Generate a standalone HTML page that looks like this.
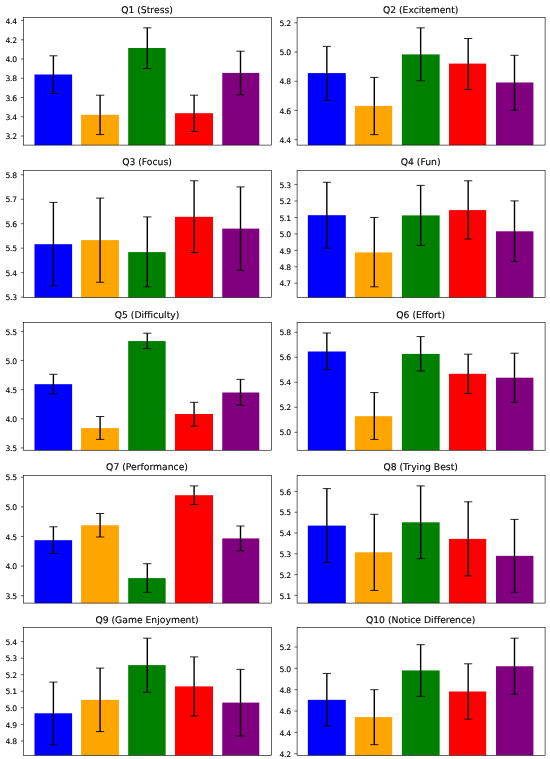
<!DOCTYPE html>
<html lang="en"><head><meta charset="utf-8"><title>Questionnaire results</title>
<style>
html,body{margin:0;padding:0;background:#fff;}
body{width:550px;height:759px;overflow:hidden;}
svg{display:block;}
svg text{font-family:"DejaVu Sans","Liberation Sans",sans-serif;fill:#000;text-rendering:geometricPrecision;}
svg text{font-variant-ligatures:none;font-kerning:normal;stroke:#000;stroke-width:0.12px;}
.tk{font-size:7.64px;text-anchor:end;letter-spacing:-0.3px;}
.tt{font-size:9.24px;text-anchor:middle;}
</style></head><body>
<svg width="550" height="759" viewBox="0 0 550 759">
<rect x="0" y="0" width="550" height="759" fill="#ffffff"/>
<g>
<rect x="34.5" y="74.5" width="37.6" height="70.6" fill="#0000ff"/>
<rect x="81.1" y="114.8" width="37.8" height="30.3" fill="#ffa500"/>
<rect x="128.2" y="48" width="37.44" height="97.1" fill="#008000"/>
<rect x="175.02" y="113.2" width="37.98" height="31.9" fill="#ff0000"/>
<rect x="222.26" y="72.9" width="37.04" height="72.2" fill="#800080"/>
<path d="M53.4 55.8V93.5" stroke="#000" stroke-width="1.4" fill="none"/>
<path d="M49.3 55.8H57.5M49.3 93.5H57.5" stroke="#000" stroke-width="0.85" fill="none"/>
<path d="M100.1 95.2V134.6" stroke="#000" stroke-width="1.4" fill="none"/>
<path d="M96 95.2H104.2M96 134.6H104.2" stroke="#000" stroke-width="0.85" fill="none"/>
<path d="M147.3 27.85V68.5" stroke="#000" stroke-width="1.4" fill="none"/>
<path d="M143.2 27.85H151.4M143.2 68.5H151.4" stroke="#000" stroke-width="0.85" fill="none"/>
<path d="M194.1 95.2V131.4" stroke="#000" stroke-width="1.4" fill="none"/>
<path d="M190 95.2H198.2M190 131.4H198.2" stroke="#000" stroke-width="0.85" fill="none"/>
<path d="M240.5 51.2V94.7" stroke="#000" stroke-width="1.4" fill="none"/>
<path d="M236.4 51.2H244.6M236.4 94.7H244.6" stroke="#000" stroke-width="0.85" fill="none"/>
<path d="M23.5 20.55H20.83M23.5 39.79H20.83M23.5 59.03H20.83M23.5 78.28H20.83M23.5 97.52H20.83M23.5 116.76H20.83M23.5 136H20.83" stroke="#000" stroke-width="0.61" fill="none"/>
<rect x="23.5" y="17.4" width="247.95" height="127.7" fill="none" stroke="#000" stroke-width="0.61"/>
<text class="tk" x="16.8" y="23.73">4.4</text>
<text class="tk" x="16.8" y="42.98">4.2</text>
<text class="tk" x="16.8" y="62.22">4.0</text>
<text class="tk" x="16.8" y="81.46">3.8</text>
<text class="tk" x="16.8" y="100.7">3.6</text>
<text class="tk" x="16.8" y="119.94">3.4</text>
<text class="tk" x="16.8" y="139.18">3.2</text>
<text class="tt" x="147.03" y="12.52">Q1 (Stress)</text>
</g>
<g>
<rect x="307.85" y="73.1" width="37.95" height="72" fill="#0000ff"/>
<rect x="354.9" y="105.9" width="37.3" height="39.2" fill="#ffa500"/>
<rect x="401.9" y="54.4" width="37.74" height="90.7" fill="#008000"/>
<rect x="449.02" y="63.6" width="37.18" height="81.5" fill="#ff0000"/>
<rect x="496.02" y="82.5" width="37.38" height="62.6" fill="#800080"/>
<path d="M326.85 46.4V100.3" stroke="#000" stroke-width="1.4" fill="none"/>
<path d="M322.75 46.4H330.95M322.75 100.3H330.95" stroke="#000" stroke-width="0.85" fill="none"/>
<path d="M374.3 77.4V134.65" stroke="#000" stroke-width="1.4" fill="none"/>
<path d="M370.2 77.4H378.4M370.2 134.65H378.4" stroke="#000" stroke-width="0.85" fill="none"/>
<path d="M420.65 27.85V80.7" stroke="#000" stroke-width="1.4" fill="none"/>
<path d="M416.55 27.85H424.75M416.55 80.7H424.75" stroke="#000" stroke-width="0.85" fill="none"/>
<path d="M468.15 38.5V89.4" stroke="#000" stroke-width="1.4" fill="none"/>
<path d="M464.05 38.5H472.25M464.05 89.4H472.25" stroke="#000" stroke-width="0.85" fill="none"/>
<path d="M514.5 55.3V110.25" stroke="#000" stroke-width="1.4" fill="none"/>
<path d="M510.4 55.3H518.6M510.4 110.25H518.6" stroke="#000" stroke-width="0.85" fill="none"/>
<path d="M297.1 22.85H294.43M297.1 52.05H294.43M297.1 81.25H294.43M297.1 110.45H294.43M297.1 139.65H294.43" stroke="#000" stroke-width="0.61" fill="none"/>
<rect x="297.1" y="17.4" width="248" height="127.7" fill="none" stroke="#000" stroke-width="0.61"/>
<text class="tk" x="290.75" y="26.03">5.2</text>
<text class="tk" x="290.75" y="55.23">5.0</text>
<text class="tk" x="290.75" y="84.43">4.8</text>
<text class="tk" x="290.75" y="113.63">4.6</text>
<text class="tk" x="290.75" y="142.83">4.4</text>
<text class="tt" x="420.65" y="12.52">Q2 (Excitement)</text>
</g>
<g>
<rect x="34.5" y="244.2" width="37.6" height="53.2" fill="#0000ff"/>
<rect x="81.1" y="240.1" width="37.8" height="57.3" fill="#ffa500"/>
<rect x="128.2" y="252.1" width="37.44" height="45.3" fill="#008000"/>
<rect x="175.02" y="216.8" width="37.98" height="80.6" fill="#ff0000"/>
<rect x="222.26" y="228.6" width="37.04" height="68.8" fill="#800080"/>
<path d="M53.4 202.4V285.9" stroke="#000" stroke-width="1.4" fill="none"/>
<path d="M49.3 202.4H57.5M49.3 285.9H57.5" stroke="#000" stroke-width="0.85" fill="none"/>
<path d="M100.1 198.1V282.3" stroke="#000" stroke-width="1.4" fill="none"/>
<path d="M96 198.1H104.2M96 282.3H104.2" stroke="#000" stroke-width="0.85" fill="none"/>
<path d="M147.3 216.9V286.8" stroke="#000" stroke-width="1.4" fill="none"/>
<path d="M143.2 216.9H151.4M143.2 286.8H151.4" stroke="#000" stroke-width="0.85" fill="none"/>
<path d="M194.1 180.8V252.6" stroke="#000" stroke-width="1.4" fill="none"/>
<path d="M190 180.8H198.2M190 252.6H198.2" stroke="#000" stroke-width="0.85" fill="none"/>
<path d="M240.5 186.9V270.4" stroke="#000" stroke-width="1.4" fill="none"/>
<path d="M236.4 186.9H244.6M236.4 270.4H244.6" stroke="#000" stroke-width="0.85" fill="none"/>
<path d="M23.5 174.75H20.83M23.5 199.23H20.83M23.5 223.71H20.83M23.5 248.19H20.83M23.5 272.67H20.83M23.5 297.15H20.83" stroke="#000" stroke-width="0.61" fill="none"/>
<rect x="23.5" y="170.3" width="247.95" height="127.1" fill="none" stroke="#000" stroke-width="0.61"/>
<text class="tk" x="16.8" y="177.93">5.8</text>
<text class="tk" x="16.8" y="202.41">5.7</text>
<text class="tk" x="16.8" y="226.89">5.6</text>
<text class="tk" x="16.8" y="251.37">5.5</text>
<text class="tk" x="16.8" y="275.85">5.4</text>
<text class="tk" x="16.8" y="300.33">5.3</text>
<text class="tt" x="147.03" y="165.42">Q3 (Focus)</text>
</g>
<g>
<rect x="307.85" y="215.2" width="37.95" height="82.2" fill="#0000ff"/>
<rect x="354.9" y="252.4" width="37.3" height="45" fill="#ffa500"/>
<rect x="401.9" y="215.4" width="37.74" height="82" fill="#008000"/>
<rect x="449.02" y="210.1" width="37.18" height="87.3" fill="#ff0000"/>
<rect x="496.02" y="231.3" width="37.38" height="66.1" fill="#800080"/>
<path d="M326.85 182.3V248.2" stroke="#000" stroke-width="1.4" fill="none"/>
<path d="M322.75 182.3H330.95M322.75 248.2H330.95" stroke="#000" stroke-width="0.85" fill="none"/>
<path d="M374.3 217.45V286.8" stroke="#000" stroke-width="1.4" fill="none"/>
<path d="M370.2 217.45H378.4M370.2 286.8H378.4" stroke="#000" stroke-width="0.85" fill="none"/>
<path d="M420.65 185.4V245.4" stroke="#000" stroke-width="1.4" fill="none"/>
<path d="M416.55 185.4H424.75M416.55 245.4H424.75" stroke="#000" stroke-width="0.85" fill="none"/>
<path d="M468.15 180.8V239.1" stroke="#000" stroke-width="1.4" fill="none"/>
<path d="M464.05 180.8H472.25M464.05 239.1H472.25" stroke="#000" stroke-width="0.85" fill="none"/>
<path d="M514.5 200.9V261.5" stroke="#000" stroke-width="1.4" fill="none"/>
<path d="M510.4 200.9H518.6M510.4 261.5H518.6" stroke="#000" stroke-width="0.85" fill="none"/>
<path d="M297.1 184.6H294.43M297.1 201.03H294.43M297.1 217.47H294.43M297.1 233.9H294.43M297.1 250.33H294.43M297.1 266.77H294.43M297.1 283.2H294.43" stroke="#000" stroke-width="0.61" fill="none"/>
<rect x="297.1" y="170.3" width="248" height="127.1" fill="none" stroke="#000" stroke-width="0.61"/>
<text class="tk" x="290.75" y="187.78">5.3</text>
<text class="tk" x="290.75" y="204.22">5.2</text>
<text class="tk" x="290.75" y="220.65">5.1</text>
<text class="tk" x="290.75" y="237.08">5.0</text>
<text class="tk" x="290.75" y="253.52">4.9</text>
<text class="tk" x="290.75" y="269.95">4.8</text>
<text class="tk" x="290.75" y="286.38">4.7</text>
<text class="tt" x="420.65" y="165.42">Q4 (Fun)</text>
</g>
<g>
<rect x="34.5" y="384.2" width="37.6" height="66.05" fill="#0000ff"/>
<rect x="81.1" y="428.1" width="37.8" height="22.15" fill="#ffa500"/>
<rect x="128.2" y="341.05" width="37.44" height="109.2" fill="#008000"/>
<rect x="175.02" y="414" width="37.98" height="36.25" fill="#ff0000"/>
<rect x="222.26" y="392.5" width="37.04" height="57.75" fill="#800080"/>
<path d="M53.4 374.3V393.9" stroke="#000" stroke-width="1.4" fill="none"/>
<path d="M49.3 374.3H57.5M49.3 393.9H57.5" stroke="#000" stroke-width="0.85" fill="none"/>
<path d="M100.1 416.5V439.4" stroke="#000" stroke-width="1.4" fill="none"/>
<path d="M96 416.5H104.2M96 439.4H104.2" stroke="#000" stroke-width="0.85" fill="none"/>
<path d="M147.3 333.2V348.6" stroke="#000" stroke-width="1.4" fill="none"/>
<path d="M143.2 333.2H151.4M143.2 348.6H151.4" stroke="#000" stroke-width="0.85" fill="none"/>
<path d="M194.1 402.3V426.2" stroke="#000" stroke-width="1.4" fill="none"/>
<path d="M190 402.3H198.2M190 426.2H198.2" stroke="#000" stroke-width="0.85" fill="none"/>
<path d="M240.5 379.4V405.3" stroke="#000" stroke-width="1.4" fill="none"/>
<path d="M236.4 379.4H244.6M236.4 405.3H244.6" stroke="#000" stroke-width="0.85" fill="none"/>
<path d="M23.5 331.4H20.83M23.5 360.52H20.83M23.5 389.65H20.83M23.5 418.77H20.83M23.5 447.9H20.83" stroke="#000" stroke-width="0.61" fill="none"/>
<rect x="23.5" y="322.55" width="247.95" height="127.7" fill="none" stroke="#000" stroke-width="0.61"/>
<text class="tk" x="16.8" y="334.58">5.5</text>
<text class="tk" x="16.8" y="363.71">5.0</text>
<text class="tk" x="16.8" y="392.83">4.5</text>
<text class="tk" x="16.8" y="421.96">4.0</text>
<text class="tk" x="16.8" y="451.08">3.5</text>
<text class="tt" x="147.03" y="317.67">Q5 (Difficulty)</text>
</g>
<g>
<rect x="307.85" y="351.5" width="37.95" height="98.75" fill="#0000ff"/>
<rect x="354.9" y="416.2" width="37.3" height="34.05" fill="#ffa500"/>
<rect x="401.9" y="353.9" width="37.74" height="96.35" fill="#008000"/>
<rect x="449.02" y="373.8" width="37.18" height="76.45" fill="#ff0000"/>
<rect x="496.02" y="377.7" width="37.38" height="72.55" fill="#800080"/>
<path d="M326.85 333V369.7" stroke="#000" stroke-width="1.4" fill="none"/>
<path d="M322.75 333H330.95M322.75 369.7H330.95" stroke="#000" stroke-width="0.85" fill="none"/>
<path d="M374.3 392.6V439.4" stroke="#000" stroke-width="1.4" fill="none"/>
<path d="M370.2 392.6H378.4M370.2 439.4H378.4" stroke="#000" stroke-width="0.85" fill="none"/>
<path d="M420.65 336.6V371" stroke="#000" stroke-width="1.4" fill="none"/>
<path d="M416.55 336.6H424.75M416.55 371H424.75" stroke="#000" stroke-width="0.85" fill="none"/>
<path d="M468.15 354.2V393.4" stroke="#000" stroke-width="1.4" fill="none"/>
<path d="M464.05 354.2H472.25M464.05 393.4H472.25" stroke="#000" stroke-width="0.85" fill="none"/>
<path d="M514.5 353.2V402.3" stroke="#000" stroke-width="1.4" fill="none"/>
<path d="M510.4 353.2H518.6M510.4 402.3H518.6" stroke="#000" stroke-width="0.85" fill="none"/>
<path d="M297.1 332.3H294.43M297.1 357.3H294.43M297.1 382.3H294.43M297.1 407.3H294.43M297.1 432.3H294.43" stroke="#000" stroke-width="0.61" fill="none"/>
<rect x="297.1" y="322.55" width="248" height="127.7" fill="none" stroke="#000" stroke-width="0.61"/>
<text class="tk" x="290.75" y="335.48">5.8</text>
<text class="tk" x="290.75" y="360.48">5.6</text>
<text class="tk" x="290.75" y="385.48">5.4</text>
<text class="tk" x="290.75" y="410.48">5.2</text>
<text class="tk" x="290.75" y="435.48">5.0</text>
<text class="tt" x="420.65" y="317.67">Q6 (Effort)</text>
</g>
<g>
<rect x="34.5" y="540.2" width="37.6" height="62.9" fill="#0000ff"/>
<rect x="81.1" y="525.25" width="37.8" height="77.85" fill="#ffa500"/>
<rect x="128.2" y="578.1" width="37.44" height="25" fill="#008000"/>
<rect x="175.02" y="495.2" width="37.98" height="107.9" fill="#ff0000"/>
<rect x="222.26" y="538.4" width="37.04" height="64.7" fill="#800080"/>
<path d="M53.4 526.8V553.5" stroke="#000" stroke-width="1.4" fill="none"/>
<path d="M49.3 526.8H57.5M49.3 553.5H57.5" stroke="#000" stroke-width="0.85" fill="none"/>
<path d="M100.1 513.5V537" stroke="#000" stroke-width="1.4" fill="none"/>
<path d="M96 513.5H104.2M96 537H104.2" stroke="#000" stroke-width="0.85" fill="none"/>
<path d="M147.3 563.7V592.3" stroke="#000" stroke-width="1.4" fill="none"/>
<path d="M143.2 563.7H151.4M143.2 592.3H151.4" stroke="#000" stroke-width="0.85" fill="none"/>
<path d="M194.1 485.9V504.6" stroke="#000" stroke-width="1.4" fill="none"/>
<path d="M190 485.9H198.2M190 504.6H198.2" stroke="#000" stroke-width="0.85" fill="none"/>
<path d="M240.5 526V550.7" stroke="#000" stroke-width="1.4" fill="none"/>
<path d="M236.4 526H244.6M236.4 550.7H244.6" stroke="#000" stroke-width="0.85" fill="none"/>
<path d="M23.5 477.2H20.83M23.5 506.82H20.83M23.5 536.45H20.83M23.5 566.08H20.83M23.5 595.7H20.83" stroke="#000" stroke-width="0.61" fill="none"/>
<rect x="23.5" y="475.3" width="247.95" height="127.8" fill="none" stroke="#000" stroke-width="0.61"/>
<text class="tk" x="16.8" y="480.38">5.5</text>
<text class="tk" x="16.8" y="510.01">5.0</text>
<text class="tk" x="16.8" y="539.63">4.5</text>
<text class="tk" x="16.8" y="569.26">4.0</text>
<text class="tk" x="16.8" y="598.88">3.5</text>
<text class="tt" x="147.03" y="470.42">Q7 (Performance)</text>
</g>
<g>
<rect x="307.85" y="525.6" width="37.95" height="77.5" fill="#0000ff"/>
<rect x="354.9" y="552.3" width="37.3" height="50.8" fill="#ffa500"/>
<rect x="401.9" y="522.3" width="37.74" height="80.8" fill="#008000"/>
<rect x="449.02" y="538.9" width="37.18" height="64.2" fill="#ff0000"/>
<rect x="496.02" y="555.85" width="37.38" height="47.25" fill="#800080"/>
<path d="M326.85 488.6V562.4" stroke="#000" stroke-width="1.4" fill="none"/>
<path d="M322.75 488.6H330.95M322.75 562.4H330.95" stroke="#000" stroke-width="0.85" fill="none"/>
<path d="M374.3 514.3V590.4" stroke="#000" stroke-width="1.4" fill="none"/>
<path d="M370.2 514.3H378.4M370.2 590.4H378.4" stroke="#000" stroke-width="0.85" fill="none"/>
<path d="M420.65 485.9V558.6" stroke="#000" stroke-width="1.4" fill="none"/>
<path d="M416.55 485.9H424.75M416.55 558.6H424.75" stroke="#000" stroke-width="0.85" fill="none"/>
<path d="M468.15 501.8V575.9" stroke="#000" stroke-width="1.4" fill="none"/>
<path d="M464.05 501.8H472.25M464.05 575.9H472.25" stroke="#000" stroke-width="0.85" fill="none"/>
<path d="M514.5 519.4V592.3" stroke="#000" stroke-width="1.4" fill="none"/>
<path d="M510.4 519.4H518.6M510.4 592.3H518.6" stroke="#000" stroke-width="0.85" fill="none"/>
<path d="M297.1 491.45H294.43M297.1 512.24H294.43M297.1 533.03H294.43M297.1 553.82H294.43M297.1 574.61H294.43M297.1 595.4H294.43" stroke="#000" stroke-width="0.61" fill="none"/>
<rect x="297.1" y="475.3" width="248" height="127.8" fill="none" stroke="#000" stroke-width="0.61"/>
<text class="tk" x="290.75" y="494.63">5.6</text>
<text class="tk" x="290.75" y="515.42">5.5</text>
<text class="tk" x="290.75" y="536.21">5.4</text>
<text class="tk" x="290.75" y="557">5.3</text>
<text class="tk" x="290.75" y="577.79">5.2</text>
<text class="tk" x="290.75" y="598.58">5.1</text>
<text class="tt" x="420.65" y="470.42">Q8 (Trying Best)</text>
</g>
<g>
<rect x="34.5" y="713.3" width="37.6" height="42" fill="#0000ff"/>
<rect x="81.1" y="699.85" width="37.8" height="55.45" fill="#ffa500"/>
<rect x="128.2" y="665.1" width="37.44" height="90.2" fill="#008000"/>
<rect x="175.02" y="686.4" width="37.98" height="68.9" fill="#ff0000"/>
<rect x="222.26" y="702.6" width="37.04" height="52.7" fill="#800080"/>
<path d="M53.4 682.1V744.7" stroke="#000" stroke-width="1.4" fill="none"/>
<path d="M49.3 682.1H57.5M49.3 744.7H57.5" stroke="#000" stroke-width="0.85" fill="none"/>
<path d="M100.1 668.1V731.5" stroke="#000" stroke-width="1.4" fill="none"/>
<path d="M96 668.1H104.2M96 731.5H104.2" stroke="#000" stroke-width="0.85" fill="none"/>
<path d="M147.3 638.2V692.3" stroke="#000" stroke-width="1.4" fill="none"/>
<path d="M143.2 638.2H151.4M143.2 692.3H151.4" stroke="#000" stroke-width="0.85" fill="none"/>
<path d="M194.1 656.9V715.95" stroke="#000" stroke-width="1.4" fill="none"/>
<path d="M190 656.9H198.2M190 715.95H198.2" stroke="#000" stroke-width="0.85" fill="none"/>
<path d="M240.5 669.4V736.05" stroke="#000" stroke-width="1.4" fill="none"/>
<path d="M236.4 669.4H244.6M236.4 736.05H244.6" stroke="#000" stroke-width="0.85" fill="none"/>
<path d="M23.5 641.65H20.83M23.5 658.19H20.83M23.5 674.73H20.83M23.5 691.27H20.83M23.5 707.82H20.83M23.5 724.36H20.83M23.5 740.9H20.83" stroke="#000" stroke-width="0.61" fill="none"/>
<rect x="23.5" y="627.55" width="247.95" height="127.75" fill="none" stroke="#000" stroke-width="0.61"/>
<text class="tk" x="16.8" y="644.83">5.4</text>
<text class="tk" x="16.8" y="661.38">5.3</text>
<text class="tk" x="16.8" y="677.92">5.2</text>
<text class="tk" x="16.8" y="694.46">5.1</text>
<text class="tk" x="16.8" y="711">5.0</text>
<text class="tk" x="16.8" y="727.54">4.9</text>
<text class="tk" x="16.8" y="744.08">4.8</text>
<text class="tt" x="147.03" y="622.67">Q9 (Game Enjoyment)</text>
</g>
<g>
<rect x="307.85" y="699.85" width="37.95" height="55.45" fill="#0000ff"/>
<rect x="354.9" y="717.1" width="37.3" height="38.2" fill="#ffa500"/>
<rect x="401.9" y="670.45" width="37.74" height="84.85" fill="#008000"/>
<rect x="449.02" y="691.5" width="37.18" height="63.8" fill="#ff0000"/>
<rect x="496.02" y="666.25" width="37.38" height="89.05" fill="#800080"/>
<path d="M326.85 673.45V726.1" stroke="#000" stroke-width="1.4" fill="none"/>
<path d="M322.75 673.45H330.95M322.75 726.1H330.95" stroke="#000" stroke-width="0.85" fill="none"/>
<path d="M374.3 689.7V744.7" stroke="#000" stroke-width="1.4" fill="none"/>
<path d="M370.2 689.7H378.4M370.2 744.7H378.4" stroke="#000" stroke-width="0.85" fill="none"/>
<path d="M420.65 644.7V696.35" stroke="#000" stroke-width="1.4" fill="none"/>
<path d="M416.55 644.7H424.75M416.55 696.35H424.75" stroke="#000" stroke-width="0.85" fill="none"/>
<path d="M468.15 663.8V719.25" stroke="#000" stroke-width="1.4" fill="none"/>
<path d="M464.05 663.8H472.25M464.05 719.25H472.25" stroke="#000" stroke-width="0.85" fill="none"/>
<path d="M514.5 638.2V694.3" stroke="#000" stroke-width="1.4" fill="none"/>
<path d="M510.4 638.2H518.6M510.4 694.3H518.6" stroke="#000" stroke-width="0.85" fill="none"/>
<path d="M297.1 647H294.43M297.1 668.34H294.43M297.1 689.68H294.43M297.1 711.02H294.43M297.1 732.36H294.43M297.1 753.7H294.43" stroke="#000" stroke-width="0.61" fill="none"/>
<rect x="297.1" y="627.55" width="248" height="127.75" fill="none" stroke="#000" stroke-width="0.61"/>
<text class="tk" x="290.75" y="650.18">5.2</text>
<text class="tk" x="290.75" y="671.52">5.0</text>
<text class="tk" x="290.75" y="692.86">4.8</text>
<text class="tk" x="290.75" y="714.2">4.6</text>
<text class="tk" x="290.75" y="735.54">4.4</text>
<text class="tk" x="290.75" y="756.88">4.2</text>
<text class="tt" x="420.65" y="622.67">Q10 (Notice Difference)</text>
</g>
</svg>
</body></html>
